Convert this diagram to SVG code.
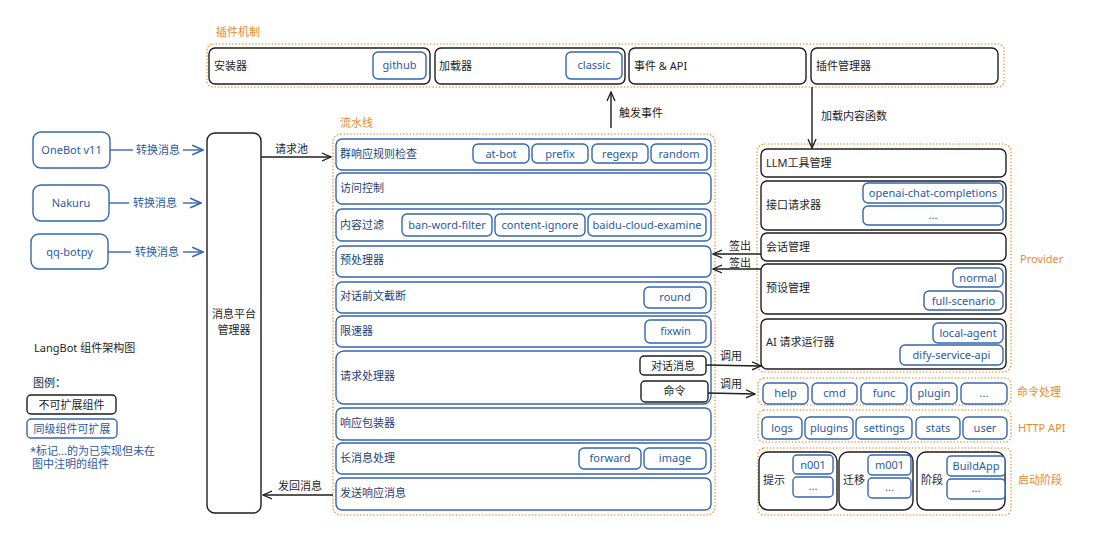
<svg xmlns="http://www.w3.org/2000/svg" width="1100" height="553" viewBox="0 0 1100 553">
<style>
text{font-family:"Noto Sans","Noto Sans CJK SC",sans-serif;font-size:11px;fill:#1e1e1e}
.k{fill:#fff;stroke:#1e1e1e;stroke-width:1.4}
.b{fill:#fff;stroke:#3566b0;stroke-width:1.4}
.f{fill:none;stroke:#ef9a45;stroke-width:1.6;stroke-dasharray:0.1 3.2;stroke-linecap:round}
.tb{fill:#2b5aa3}
.tn{fill:#1f3f77}
.to{fill:#e8892f}
.c{text-anchor:middle}
.ln{fill:none;stroke:#1e1e1e;stroke-width:1.4}
.lb{fill:none;stroke:#3566b0;stroke-width:1.4}
</style>
<defs>
<marker id="ah" viewBox="0 0 10 10" refX="9" refY="5" markerWidth="10" markerHeight="10" markerUnits="userSpaceOnUse" orient="auto"><path d="M0,1 L9,5 L0,9" fill="none" stroke="#1e1e1e" stroke-width="1.3"/></marker>
<marker id="ahb" viewBox="0 0 10 10" refX="9" refY="5" markerWidth="12" markerHeight="12" markerUnits="userSpaceOnUse" orient="auto"><path d="M0,1 L9,5 L0,9" fill="none" stroke="#3566b0" stroke-width="1.3"/></marker>
</defs>
<rect width="1100" height="553" fill="#fff"/>

<g id="plugin">
<rect class="f" x="207" y="44" width="797" height="43" rx="6"/>
<text class="to" x="216" y="36">插件机制</text>
<g id="installer"><rect class="k" x="209" y="48" width="221" height="36" rx="6"/><text x="214" y="70">安装器</text>
<rect class="b" x="373" y="52" width="53" height="27" rx="5"/><text class="tb c" x="399.5" y="69">github</text></g>
<g id="loader"><rect class="k" x="435" y="48" width="190" height="36" rx="6"/><text x="439" y="70">加载器</text>
<rect class="b" x="566" y="52" width="56" height="27" rx="5"/><text class="tb c" x="594" y="69">classic</text></g>
<g id="events"><rect class="k" x="629" y="48" width="177" height="36" rx="6"/><text x="634" y="70">事件 &amp; API</text></g>
<g id="pluginmgr"><rect class="k" x="811" y="48" width="187" height="36" rx="6"/><text x="816" y="70">插件管理器</text></g>
</g>

<g id="platforms">
<g id="onebot"><rect class="b" x="33" y="132" width="77" height="36" rx="8"/><text class="tb c" x="71.5" y="154">OneBot v11</text></g>
<g id="nakuru"><rect class="b" x="33" y="185" width="76" height="36" rx="8"/><text class="tb c" x="71" y="207">Nakuru</text></g>
<g id="qqbotpy"><rect class="b" x="31" y="234" width="77" height="35" rx="8"/><text class="tb c" x="69.5" y="256">qq-botpy</text></g>
</g>

<g id="platformmgr"><rect class="k" x="207" y="133" width="54" height="380" rx="8"/><text class="c" x="234" y="318">消息平台</text><text class="c" x="234" y="334">管理器</text></g>

<g id="pipeline">
<rect class="f" x="333" y="134" width="382" height="381" rx="8"/>
<text class="to" x="340" y="127">流水线</text>
<g id="p1"><rect class="b" x="336" y="139" width="375" height="31" rx="6"/><text class="tn" x="340" y="158">群响应规则检查</text>
<rect class="b" x="473" y="144" width="56" height="19" rx="5"/><text class="tb c" x="501" y="157.5">at-bot</text>
<rect class="b" x="532" y="144" width="56" height="19" rx="5"/><text class="tb c" x="560" y="157.5">prefix</text>
<rect class="b" x="592" y="144" width="56" height="19" rx="5"/><text class="tb c" x="620" y="157.5">regexp</text>
<rect class="b" x="651" y="144" width="56" height="19" rx="5"/><text class="tb c" x="679" y="157.5">random</text></g>
<g id="p2"><rect class="b" x="336" y="173" width="375" height="31" rx="6"/><text class="tn" x="340" y="192">访问控制</text></g>
<g id="p3"><rect class="b" x="336" y="209" width="375" height="32" rx="6"/><text class="tn" x="340" y="229">内容过滤</text>
<rect class="b" x="402" y="214" width="90" height="22" rx="5"/><text class="tb c" x="447" y="229">ban-word-filter</text>
<rect class="b" x="495" y="214" width="90" height="22" rx="5"/><text class="tb c" x="540" y="229">content-ignore</text>
<rect class="b" x="588" y="214" width="118" height="22" rx="5"/><text class="tb c" x="647" y="229">baidu-cloud-examine</text></g>
<g id="p4"><rect class="b" x="336" y="246" width="375" height="31" rx="6"/><text class="tn" x="340" y="264">预处理器</text></g>
<g id="p5"><rect class="b" x="336" y="282" width="375" height="31" rx="6"/><text class="tn" x="340" y="300">对话前文截断</text>
<rect class="b" x="644" y="287" width="62" height="21" rx="5"/><text class="tb c" x="675" y="301">round</text></g>
<g id="p6"><rect class="b" x="336" y="316" width="375" height="31" rx="6"/><text class="tn" x="340" y="335">限速器</text>
<rect class="b" x="645" y="320" width="61" height="23" rx="5"/><text class="tb c" x="675.5" y="335">fixwin</text></g>
<g id="p7"><rect class="b" x="336" y="351" width="375" height="53" rx="8"/><text class="tn" x="340" y="380">请求处理器</text>
<rect class="k" x="640" y="356" width="66" height="19" rx="4"/><text class="c" x="673" y="370">对话消息</text>
<rect class="k" x="641" y="381" width="67" height="21" rx="4"/><text class="c" x="674.5" y="395">命令</text></g>
<g id="p8"><rect class="b" x="336" y="408" width="375" height="32" rx="6"/><text class="tn" x="340" y="427">响应包装器</text></g>
<g id="p9"><rect class="b" x="336" y="443" width="375" height="31" rx="6"/><text class="tn" x="340" y="462">长消息处理</text>
<rect class="b" x="579" y="448" width="62" height="21" rx="5"/><text class="tb c" x="610" y="462">forward</text>
<rect class="b" x="644" y="448" width="62" height="21" rx="5"/><text class="tb c" x="675" y="462">image</text></g>
<g id="p10"><rect class="b" x="336" y="478" width="375" height="32" rx="6"/><text class="tn" x="340" y="497">发送响应消息</text></g>
</g>

<g id="provider">
<rect class="f" x="757" y="144" width="254" height="228" rx="8"/>
<text class="to" x="1020" y="263">Provider</text>
<g id="llmtool"><rect class="k" x="761" y="149" width="245" height="28" rx="6"/><text x="766" y="167">LLM工具管理</text></g>
<g id="requester"><rect class="k" x="761" y="181" width="245" height="49" rx="6"/><text x="766" y="209">接口请求器</text>
<rect class="b" x="863" y="183" width="140" height="20" rx="5"/><text class="tb c" x="933" y="197">openai-chat-completions</text>
<rect class="b" x="863" y="206" width="140" height="19" rx="5"/><text class="tb c" x="933" y="219">...</text></g>
<g id="session"><rect class="k" x="761" y="233" width="245" height="28" rx="6"/><text x="766" y="251">会话管理</text></g>
<g id="preset"><rect class="k" x="761" y="264" width="245" height="50" rx="6"/><text x="766" y="292">预设管理</text>
<rect class="b" x="953" y="268" width="50" height="19" rx="5"/><text class="tb c" x="978" y="281.5">normal</text>
<rect class="b" x="924" y="291" width="79" height="19" rx="5"/><text class="tb c" x="963.5" y="304.5">full-scenario</text></g>
<g id="runner"><rect class="k" x="761" y="319" width="245" height="50" rx="6"/><text x="766" y="346">AI 请求运行器</text>
<rect class="b" x="933" y="323" width="70" height="20" rx="5"/><text class="tb c" x="968" y="337">local-agent</text>
<rect class="b" x="900" y="345" width="103" height="20" rx="5"/><text class="tb c" x="951.5" y="359">dify-service-api</text></g>
</g>

<g id="commands">
<rect class="f" x="758" y="378" width="253" height="27" rx="6"/>
<text class="to" x="1017" y="396">命令处理</text>
<rect class="b" x="763" y="383" width="45" height="21" rx="5"/><text class="tb c" x="785.5" y="397">help</text>
<rect class="b" x="812" y="383" width="45" height="21" rx="5"/><text class="tb c" x="834.5" y="397">cmd</text>
<rect class="b" x="861" y="383" width="46" height="21" rx="5"/><text class="tb c" x="884" y="397">func</text>
<rect class="b" x="911" y="383" width="46" height="21" rx="5"/><text class="tb c" x="934" y="397">plugin</text>
<rect class="b" x="961" y="383" width="46" height="21" rx="5"/><text class="tb c" x="984" y="397">...</text>
</g>

<g id="httpapi">
<rect class="f" x="758" y="410" width="253" height="32" rx="6"/>
<text class="to" x="1018" y="432">HTTP API</text>
<rect class="b" x="762" y="417" width="40" height="22" rx="5"/><text class="tb c" x="782" y="432">logs</text>
<rect class="b" x="805" y="417" width="48" height="22" rx="5"/><text class="tb c" x="829" y="432">plugins</text>
<rect class="b" x="856" y="417" width="56" height="22" rx="5"/><text class="tb c" x="884" y="432">settings</text>
<rect class="b" x="916" y="417" width="44" height="22" rx="5"/><text class="tb c" x="938" y="432">stats</text>
<rect class="b" x="963" y="417" width="44" height="22" rx="5"/><text class="tb c" x="985" y="432">user</text>
</g>

<g id="startup">
<rect class="f" x="758" y="448" width="253" height="67" rx="6"/>
<text class="to" x="1018" y="484">启动阶段</text>
<g id="hint"><rect class="k" x="759" y="452" width="78" height="58" rx="9"/><text x="763" y="484">提示</text>
<rect class="b" x="793" y="455" width="40" height="19" rx="4"/><text class="tb c" x="813" y="469">n001</text>
<rect class="b" x="793" y="477" width="40" height="20" rx="4"/><text class="tb c" x="813" y="490">...</text></g>
<g id="migrate"><rect class="k" x="839" y="452" width="74" height="58" rx="9"/><text x="843" y="484">迁移</text>
<rect class="b" x="868" y="455" width="43" height="20" rx="4"/><text class="tb c" x="889.5" y="469">m001</text>
<rect class="b" x="868" y="478" width="43" height="20" rx="4"/><text class="tb c" x="889.5" y="491">...</text></g>
<g id="stage"><rect class="k" x="917" y="452" width="88" height="58" rx="9"/><text x="921" y="484">阶段</text>
<rect class="b" x="947" y="456" width="58" height="20" rx="4"/><text class="tb c" x="976" y="470">BuildApp</text>
<rect class="b" x="947" y="479" width="58" height="20" rx="4"/><text class="tb c" x="976" y="492">...</text></g>
</g>

<g id="connectors">
<path class="lb" d="M110,150 H133"/><path class="lb" d="M183,150 H203" marker-end="url(#ahb)"/>
<text class="tb" x="136" y="154">转换消息</text>
<path class="lb" d="M109,203 H129"/><path class="lb" d="M183,203 H201" marker-end="url(#ahb)"/>
<text class="tb" x="133" y="207">转换消息</text>
<path class="lb" d="M108,252 H131"/><path class="lb" d="M183,252 H203" marker-end="url(#ahb)"/>
<text class="tb" x="135" y="256">转换消息</text>
<path class="ln" d="M261,157 H331" marker-end="url(#ah)"/>
<text x="275" y="153">请求池</text>
<path class="ln" d="M333,495 H263" marker-end="url(#ah)"/>
<text x="278" y="490">发回消息</text>
<path class="ln" d="M611,128 V92" marker-end="url(#ah)"/>
<text x="619" y="117">触发事件</text>
<path class="ln" d="M812,87 V148" marker-end="url(#ah)"/>
<text x="821" y="120">加载内容函数</text>
<path class="ln" d="M761,254 H713" marker-end="url(#ah)"/>
<text x="729" y="250">签出</text>
<path class="ln" d="M761,269 H713" marker-end="url(#ah)"/>
<text x="729" y="267">签出</text>
<path class="ln" d="M706,365 L761,366" marker-end="url(#ah)"/>
<text x="720" y="360">调用</text>
<path class="ln" d="M708,393 L755,394" marker-end="url(#ah)"/>
<text x="720" y="388">调用</text>
</g>

<g id="legend">
<text x="34" y="352">LangBot 组件架构图</text>
<text x="33" y="387">图例：</text>
<rect class="k" x="27" y="395" width="89" height="19" rx="4"/><text class="c" x="71.5" y="409">不可扩展组件</text>
<rect class="b" x="27" y="419" width="90" height="19" rx="4"/><text class="tb c" x="72" y="433">同级组件可扩展</text>
<text class="tb" x="30" y="455">*标记...的为已实现但未在</text>
<text class="tb" x="32" y="468">图中注明的组件</text>
</g>
</svg>
